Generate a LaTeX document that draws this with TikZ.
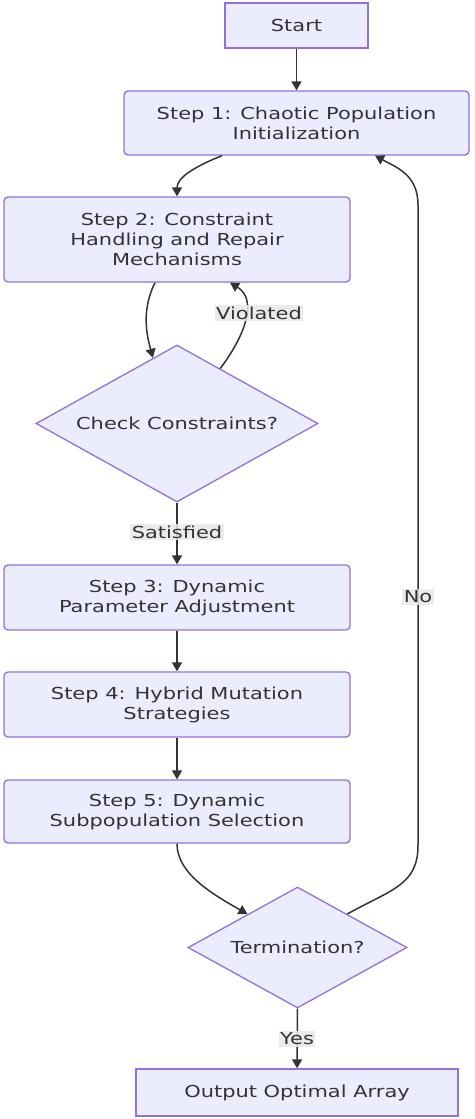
\documentclass[tikz,border=0pt]{standalone}
\usepackage{fontspec}
\setmainfont{DejaVu Sans}[FakeStretch=1.27]
\usetikzlibrary{shapes.geometric,arrows.meta,calc}
\definecolor{nodefill}{HTML}{ECECFF}
\definecolor{nodeline}{HTML}{9370DB}
\definecolor{txt}{HTML}{333333}
\definecolor{lblbg}{HTML}{E8E8E8}
\tikzset{
  x=1pt,y=1pt,
  base/.style={draw=nodeline,fill=nodefill,line width=1.3pt,text=txt,
    font=\fontsize{16.5}{20}\selectfont,align=center,inner sep=0pt},
  sqbox/.style={base,rectangle},
  rbox/.style={base,rectangle,rounded corners=4pt},
  dec/.style={base,diamond,shape aspect=1.8},
  lbl/.style={fill=lblbg,fill opacity=0.85,text opacity=1,text=txt,
    font=\fontsize{16.5}{20}\selectfont,inner xsep=1.5pt,inner ysep=2pt},
  conn/.style={draw=txt,line width=1.5pt,-{Triangle[length=9pt,width=10pt]}},
}
\begin{document}
\begin{tikzpicture}
\useasboundingbox (0,0) rectangle (474,-1119);
\node[sqbox,minimum width=143pt,minimum height=45pt] (start) at (296.5,-25.5) {Start};
\node[rbox,minimum width=345pt,minimum height=64pt] (s1) at (296.5,-123) {Step 1: Chaotic Population\\Initialization};
\node[rbox,minimum width=346pt,minimum height=85pt] (s2) at (177,-239.5) {Step 2: Constraint\\Handling and Repair\\Mechanisms};
\node[dec,minimum width=282pt,minimum height=157pt] (chk) at (177,-423.5) {Check Constraints?};
\node[rbox,minimum width=346pt,minimum height=65pt] (s3) at (177,-597.5) {Step 3: Dynamic\\Parameter Adjustment};
\node[rbox,minimum width=346pt,minimum height=65pt] (s4) at (177,-704.5) {Step 4: Hybrid Mutation\\Strategies};
\node[rbox,minimum width=346pt,minimum height=63pt] (s5) at (177,-811.5) {Step 5: Dynamic\\Subpopulation Selection};
\node[dec,minimum width=219pt,minimum height=121pt] (term) at (297.5,-947.5) {Termination?};
\node[sqbox,minimum width=322pt,minimum height=47pt] (out) at (297,-1092.5) {Output Optimal Array};

\coordinate (chkin) at ($(chk.north)!0.17!(chk.west)$);
\coordinate (chkout) at ($(chk.north)!0.305!(chk.east)$);
\coordinate (termin) at ($(term.north)!0.454!(term.west)$);
\coordinate (termout) at ($(term.north)!0.452!(term.east)$);

\draw[conn] (start.south) -- (s1.north);
\draw[conn] ([xshift=-74.5pt]s1.south) .. controls +(-30,-12) and +(0,18) .. (s2.north);
\draw[conn] ([xshift=-22pt]s2.south) .. controls +(-14,-28) and +(-6,22) .. (chkin);
\draw[conn] (chkout) .. controls +(25,33) and +(28,-17) .. ([xshift=53pt]s2.south);
\draw[conn] (chk.south) -- (s3.north);
\draw[conn] (s3.south) -- (s4.north);
\draw[conn] (s4.south) -- (s5.north);
\draw[conn] (s5.south) .. controls +(0,-30) and +(-35,20) .. (termin);
\draw[conn] (termout) .. controls +(45,25) and +(0,-40) .. (418,-845) -- (418,-205) .. controls +(0,30) and +(22,-12) .. ([xshift=78.5pt]s1.south);
\draw[conn] (term.south) -- (out.north);

\node[lbl] (lv) at (259,-313) {Violated};
\node[lbl] (ls) at (177,-532) {Satisfied};
\node[lbl] (ln) at (418,-597) {No};
\node[lbl] (ly) at (297,-1039) {Yes};
\end{tikzpicture}
\end{document}
